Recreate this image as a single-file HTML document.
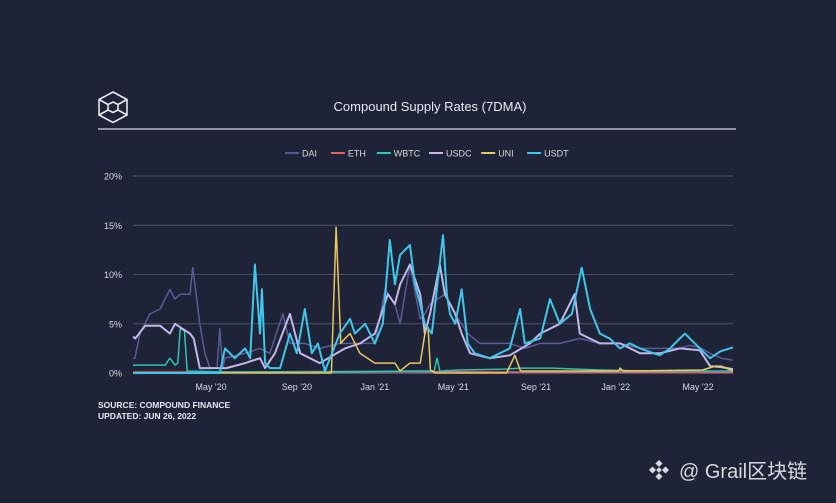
<!DOCTYPE html>
<html><head><meta charset="utf-8">
<style>
html,body{margin:0;padding:0;background:#1f2337;}
body{width:836px;height:503px;overflow:hidden;position:relative;font-family:"Liberation Sans","Noto Sans CJK SC",sans-serif;}
svg{position:absolute;left:0;top:0;}
</style></head>
<body>
<svg id="chart" width="836" height="503">
  <g fill="none" stroke="#e8e8ee" stroke-width="1.6">
    <polygon points="113,92 127,99.5 127,115 113,122.5 99,115 99,99.5"/>
    <polygon points="113,102 118,104.5 118,110 113,112.5 108,110 108,104.5"/>
    <line x1="99" y1="99.5" x2="108" y2="104.5"/><line x1="127" y1="99.5" x2="118" y2="104.5"/>
    <line x1="99" y1="115" x2="108" y2="110"/><line x1="127" y1="115" x2="118" y2="110"/>
  </g>
  <text x="430" y="111" text-anchor="middle" fill="#e8e8ee" font-size="13">Compound Supply Rates (7DMA)</text>
  <line x1="98" y1="129" x2="736" y2="129" stroke="#d8d8de" stroke-width="1.3"/>
  <g id="legend"></g>
  <g id="grid"></g>
  <g id="series"></g>
  <g id="xaxis"></g>
  <text x="98" y="408" fill="#e8e8ee" font-size="8.5" font-weight="bold">SOURCE: COMPOUND FINANCE</text>
  <text x="98" y="419" fill="#e8e8ee" font-size="8.5" font-weight="bold">UPDATED: JUN 26, 2022</text>
  <g>
    <g fill="#d8d8de" transform="translate(659,470)">
      <rect x="-2.5" y="-9" width="5" height="5" transform="rotate(45 0 -6.5)"/>
      <rect x="-9" y="-2.5" width="5" height="5" transform="rotate(45 -6.5 0)"/>
      <rect x="4" y="-2.5" width="5" height="5" transform="rotate(45 6.5 0)"/>
      <rect x="-2.5" y="4" width="5" height="5" transform="rotate(45 0 6.5)"/>
      <rect x="-2" y="-2" width="4" height="4" transform="rotate(45 0 0)"/>
    </g>
    <text x="679" y="478" fill="#d8d8de" font-size="20">@ Grail区块链</text>
  </g>
</svg>
<script>
const yTicks=[0,5,10,15,20];
const xTickLabels=["May '20","Sep '20","Jan '21","May '21","Sep '21","Jan '22","May '22"];
const xTickWeeks=[16.7,35.1,51.8,68.6,86.3,103.4,121];
const seriesNames=["DAI","ETH","WBTC","USDC","UNI","USDT"];
const seriesColors=["#5b5a96","#e0616b","#2ec4b0","#c3b7ea","#e9c85e","#3fc6e8"];
const daiWeeks=[0,0.4,1.5,3.6,5.8,7.9,9,10.1,12.2,12.8,14.3,15.4,16.5,18,18.6,19.2,19.7,24,27.2,29.3,32.1,33.6,36.8,40,44.3,48.6,51.8,54,56.1,57.2,59.3,61.5,62.5,63.6,66.8,69,71.7,74.3,80.7,83.9,87.2,91.4,95.7,100,104.3,108.6,112.8,117.1,119.3,121.4,123.6,126,128.5];
const daiVals=[1.5,1.5,4,6,6.5,8.5,7.5,8,8,10.7,5,2,0.5,0.5,4.5,0.5,1.5,2,2.5,2,6,3,3,2.5,3,3,3,8.5,7,5,11,5.5,6,7,8,6,4,3,3,2.5,3,3,3.5,3,3,2.5,2.5,2.5,2.8,2.6,2,1.5,1.3];
const ethWeeks=[0,20,40,60,80,100,128.5];
const ethVals=[0.1,0.1,0.15,0.15,0.1,0.1,0.05];
const wbtcWeeks=[0,6.9,7.9,9,9.6,10.1,11,11.6,20,40,60,64.5,65.1,65.7,70,80,82.9,90,95,100,110,128.5];
const wbtcVals=[0.8,0.8,1.5,0.8,1,4.5,4.3,0.2,0.1,0.1,0.2,0.2,1.5,0.2,0.3,0.4,0.5,0.5,0.4,0.3,0.2,0.2];
const usdcWeeks=[0,0.5,2.6,5.8,7.9,9,9.6,12.2,13,14.3,20,24,27.2,28.3,30.4,33.6,35.8,40,45.4,48.6,51.8,54.6,56.1,57.2,59.3,61.5,62.5,63.6,65.7,66.8,69,70.4,72.2,76.4,80.7,85,87.2,91.4,94.6,95.7,100,104.3,108.6,112.8,117.1,121.4,123.6,126,128.5];
const usdcVals=[3.7,3.5,4.8,4.8,4,5,4.8,4,3.5,0.5,0.5,1,1.5,0.5,2,6,2,1,2.5,3,4,8,7,9,11,8,4,6,11,8,6,4,2,1.5,1.8,3,4,5,8,4,3,3,2,2,2.5,2.3,0.7,0.6,0.4];
const uniWeeks=[0,42.5,43.5,44.5,45.4,46.5,48.6,51.8,56.1,57.2,59.3,61.5,62.8,63.2,63.7,64.7,80,81.8,83,90,104,104.3,105,122,124.7,126,128.5];
const uniVals=[0,0,14.8,3,3.5,4,2,1,1,0.2,1,1,4.8,4.6,0.3,0,0,1.8,0.2,0.2,0.2,0.5,0.2,0.3,0.7,0.7,0.2];
const usdtWeeks=[0,18.6,19.7,21.8,24,25.1,26.1,27.2,27.6,28.3,29.3,31.5,33.6,35.1,36.8,38.3,39.6,41.1,44.3,46.5,47.5,49.7,51.8,53.5,55,56.1,57.2,59.3,60.4,61.5,62.5,64,66.4,67.2,67.9,69,70.4,71.7,73.2,76.4,80.7,82.9,83.9,87.2,89.3,91.4,94,96.1,97.9,100,102.1,104.3,106.4,108.6,112.8,115,117.1,118.2,121.4,123.6,125.8,128.5];
const usdtVals=[0,0,2.5,1.5,2.5,1.5,11,4,8.5,1,0.5,0.5,4,2,6.5,2,3,0.2,4,5.5,4,5,3,5,13.5,9,12,13,9,7,5,4,14,8,6,5,8.5,3,2,1.5,2.5,6.5,3,3.5,7.5,5,6,10.7,6.5,4,3.5,2.5,3,2.5,1.8,2.5,3.5,4,2.5,1.5,2.2,2.6];

const NS="http://www.w3.org/2000/svg";
const X0=133,X1=733,Y0=373,Y20=176,WMAX=128.5;
const xs=w=>X0+(X1-X0)*w/WMAX;
const ys=v=>Y0-(Y0-Y20)*v/20;
function mk(tag,attrs,parent){const e=document.createElementNS(NS,tag);for(const k in attrs)e.setAttribute(k,attrs[k]);parent.appendChild(e);return e;}
const grid=document.getElementById('grid');
yTicks.forEach(t=>{
  const l=mk('line',{x1:X0,x2:X1,y1:ys(t),y2:ys(t),stroke:t===0?'#8a8ca0':'#4a4e63','stroke-width':1},grid);
  
  
  const tx=mk('text',{x:122,y:ys(t)+3.5,'text-anchor':'end',fill:'#d8d8de','font-size':9},grid);
  tx.textContent=t+'%';
  
  
});
const xa=document.getElementById('xaxis');
xTickLabels.forEach((lab,i)=>{
  const tx=mk('text',{x:xs(xTickWeeks[i]),y:390,'text-anchor':'middle',fill:'#d8d8de','font-size':9},xa);
  tx.textContent=lab;
  
  
});
const data=[[daiWeeks,daiVals],[ethWeeks,ethVals],[wbtcWeeks,wbtcVals],[usdcWeeks,usdcVals],[uniWeeks,uniVals],[usdtWeeks,usdtVals]];
const order=[0,1,2,3,4,5];
const sg=document.getElementById('series');
order.forEach(i=>{
  const [w,v]=data[i];
  const d=w.map((wk,j)=>(j?'L':'M')+xs(wk).toFixed(1)+','+ys(v[j]).toFixed(1)).join(' ');
  const p=mk('path',{d:d,fill:'none',stroke:seriesColors[i],'stroke-width':i===3||i===5?2:1.5,'stroke-linejoin':'round'},sg);
  
  
});
const lg=document.getElementById('legend');
let lx=285;
seriesNames.forEach((n,i)=>{
  const g=mk('g',{},lg);
  
  
  mk('line',{x1:lx,x2:lx+14,y1:153,y2:153,stroke:seriesColors[i],'stroke-width':2},g);
  const t=mk('text',{x:lx+17,y:156.5,fill:'#d8d8de','font-size':9},g);
  t.textContent=n;
  lx+=17+n.length*6.3+10;
});
</script>
</body></html>
